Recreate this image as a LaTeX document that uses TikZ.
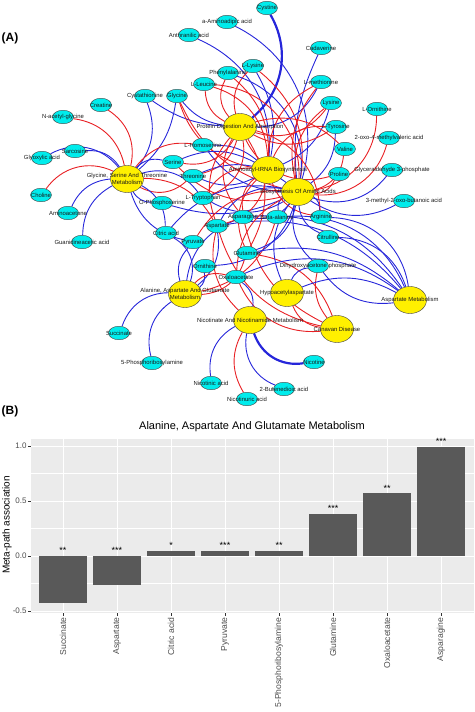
\documentclass[tikz,border=0pt]{standalone}
\usepackage{fontspec}
\setmainfont{Liberation Sans}
\usetikzlibrary{shapes.geometric,backgrounds}
\definecolor{ecyan}{RGB}{0,236,236}
\definecolor{eyel}{RGB}{255,240,0}
\definecolor{eblue}{RGB}{38,38,218}
\definecolor{ered}{RGB}{232,32,36}
\definecolor{panelgray}{RGB}{235,235,235}
\definecolor{bargray}{RGB}{89,89,89}
\definecolor{axgray}{RGB}{77,77,77}
\begin{document}
\begin{tikzpicture}[x=1pt,y=-1pt,
  met/.style={ellipse,draw=black!75,line width=0.4pt,fill=ecyan,minimum width=21pt,minimum height=13.5pt,inner sep=0pt},
  pw/.style={ellipse,draw=black!75,line width=0.4pt,fill=eyel,minimum width=33pt,minimum height=27pt,inner sep=0pt},
  lab/.style={font=\fontsize{5.9}{7}\selectfont,text=black!90,inner sep=0pt,align=center},
  bl/.style={draw=eblue,line width=0.9pt},
  rd/.style={draw=ered,line width=0.9pt},
  blT/.style={draw=eblue,line width=2.2pt},
  panel/.style={font=\bfseries\fontsize{12}{14}\selectfont,inner sep=0pt}]
\useasboundingbox (0,0) rectangle (474,712);
% ---------- panel labels
\node[panel] (lA) at (10,38) {(A)};
\node[panel] (lB) at (10,411) {(B)};
% ---------- pathway nodes
\node[pw] (PD) at (240,127) {};
\node[pw] (AT) at (268,170) {};
\node[pw] (BA) at (298,192) {};
\node[pw] (GS) at (127,179) {};
\node[pw] (AA) at (185,294) {};
\node[pw] (HA) at (287,293) {};
\node[pw] (NN) at (250,320) {};
\node[pw] (CD) at (337,329) {};
\node[pw] (AM) at (410,300) {};
% ---------- metabolite nodes
\node[met] (c1) at (267,8) {};
\node[met] (c2) at (227,22) {};
\node[met] (c3) at (189,35) {};
\node[met] (c4) at (321,48) {};
\node[met] (c5) at (253,66) {};
\node[met] (c6) at (228,73) {};
\node[met] (c7) at (321,82) {};
\node[met] (c8) at (204,84) {};
\node[met] (c9) at (145,96) {};
\node[met] (c10) at (177,96) {};
\node[met] (c11) at (101,105) {};
\node[met] (c12) at (331,103) {};
\node[met] (c13) at (377,109) {};
\node[met] (c14) at (63,117) {};
\node[met] (c15) at (336,127) {};
\node[met] (c16) at (389,138) {};
\node[met] (c17) at (203,145) {};
\node[met] (c18) at (345,149) {};
\node[met] (c19) at (75,151) {};
\node[met] (c20) at (42,158) {};
\node[met] (c21) at (173,162) {};
\node[met] (c22) at (392,170) {};
\node[met] (c23) at (339,174) {};
\node[met] (c24) at (193,176) {};
\node[met] (c25) at (41,195) {};
\node[met] (c26) at (203,198) {};
\node[met] (c27) at (162,203) {};
\node[met] (c28) at (404,201) {};
\node[met] (c29) at (68,213) {};
\node[met] (c30) at (243,217) {};
\node[met] (c31) at (277,217) {};
\node[met] (c32) at (321,217) {};
\node[met] (c33) at (217,226) {};
\node[met] (c34) at (166,233) {};
\node[met] (c35) at (328,237) {};
\node[met] (c36) at (193,242) {};
\node[met] (c37) at (82,242) {};
\node[met] (c38) at (247,253) {};
\node[met] (c39) at (205,266) {};
\node[met] (c40) at (318,266) {};
\node[met] (c41) at (236,277) {};
\node[met] (c42) at (119,333) {};
\node[met] (c43) at (314,362) {};
\node[met] (c44) at (152,363) {};
\node[met] (c45) at (211,383) {};
\node[met] (c46) at (284,389) {};
\node[met] (c47) at (247,399) {};
% ---------- edges (behind nodes)
\begin{pgfonlayer}{background}
\foreach \a/\b/\s/\k in {
 c1/PD/blT/40, c2/BA/bl/40, c3/AT/bl/35, c4/BA/bl/-15,
 c5/PD/rd/-30, c5/AT/bl/20, c5/BA/rd/30,
 c6/PD/rd/-35, c6/AT/rd/25, c6/BA/bl/40,
 c7/PD/bl/30, c7/AT/rd/-30, c7/BA/rd/-25,
 c8/PD/rd/-30, c8/AT/rd/35, c8/BA/rd/45,
 c9/GS/bl/30, c9/PD/bl/-15,
 c10/GS/bl/20, c10/PD/bl/-20, c10/AT/rd/-30, c10/BA/rd/-25,
 c11/GS/rd/35,
 c12/PD/rd/35, c12/AT/bl/25, c12/BA/rd/-30,
 c13/BA/rd/40, c14/GS/rd/35,
 c15/PD/rd/30, c15/AT/rd/-35, c15/BA/bl/25,
 c16/BA/rd/40,
 c17/GS/rd/-30, c17/BA/bl/-25, c17/AT/bl/20,
 c18/BA/rd/35, c18/PD/rd/-30,
 c19/GS/bl/30, c20/GS/bl/40,
 c21/GS/bl/-30, c21/PD/rd/-35, c21/AT/bl/25, c21/BA/rd/-30,
 c22/BA/bl/35,
 c23/BA/rd/30, c23/PD/rd/40,
 c24/GS/rd/35, c24/PD/rd/-30, c24/AT/bl/-25, c24/BA/bl/30,
 c25/GS/rd/40,
 c26/GS/bl/-35, c26/PD/rd/-40, c26/AT/rd/30, c26/BA/bl/-30,
 c27/GS/bl/30, c27/BA/bl/-20,
 c28/BA/bl/30, c29/GS/bl/30,
 c30/AM/bl/30, c30/CD/rd/-25, c30/BA/bl/-30, c30/AT/rd/30, c30/PD/rd/35, c30/AA/bl/-30,
 c31/AM/bl/35, c31/AA/rd/30, c31/BA/bl/30,
 c32/AM/bl/40, c32/BA/bl/-30, c32/AT/rd/30, c32/PD/rd/-35,
 c33/AA/bl/30, c33/AM/bl/30, c33/BA/bl/35, c33/PD/rd/30, c33/AT/rd/-30, c33/CD/rd/-30, c33/GS/rd/-30, c33/NN/rd/-30,
 c34/GS/bl/-30, c34/AA/bl/40, c34/BA/bl/30,
 c35/AM/bl/35, c35/BA/bl/30,
 c36/GS/bl/30, c36/AA/bl/-30, c36/BA/rd/30,
 c37/GS/bl/30,
 c38/AA/rd/35, c38/AM/bl/25, c38/BA/bl/-30, c38/AT/rd/35, c38/PD/rd/-30, c38/CD/rd/30,
 c39/AA/bl/30, c39/BA/bl/-35,
 c40/BA/bl/30, c40/HA/bl/-30, c40/CD/rd/-25, c40/AM/bl/-30,
 c41/AA/rd/-30, c41/BA/rd/30, c41/AM/bl/30, c41/CD/rd/-35, c41/NN/bl/30,
 c42/AA/bl/35, c43/NN/blT/40, c44/AA/bl/35, c45/NN/bl/35, c46/NN/bl/40, c47/NN/rd/30,
 HA/CD/rd/-30, HA/AM/bl/25, HA/BA/bl/30}
 \draw[\s] (\a) to[bend left=\k] (\b);
\end{pgfonlayer}
% ---------- labels
\node[lab] (PDt) at (PD) {Protein Digestion And Absorption};
\node[lab] (ATt) at (AT) {Aminoacyl-tRNA Biosynthesis};
\node[lab] (BAt) at (BA) {Biosynthesis Of Amino Acids};
\node[lab] (GSt) at (GS) {Glycine, Serine And Threonine\\Metabolism};
\node[lab] (AAt) at (AA) {Alanine, Aspartate And Glutamate\\Metabolism};
\node[lab] (HAt) at (HA) {Hypoacetylaspartate};
\node[lab] (NNt) at (NN) {Nicotinate And Nicotinamide Metabolism};
\node[lab] (CDt) at (CD) {Canavan Disease};
\node[lab] (AMt) at (AM) {Aspartate Metabolism};
\node[lab] (c1t) at (c1) {Cystine};
\node[lab] (c2t) at (c2) {a-Aminoadipic acid};
\node[lab] (c3t) at (c3) {Anthranilic acid};
\node[lab] (c4t) at (c4) {Cadaverine};
\node[lab] (c5t) at (c5) {L-Lysine};
\node[lab] (c6t) at (c6) {Phenylalanine};
\node[lab] (c7t) at (c7) {L-methionine};
\node[lab] (c8t) at (c8) {L-Leucine};
\node[lab] (c9t) at (c9) {Cystathionine};
\node[lab] (c10t) at (c10) {Glycine};
\node[lab] (c11t) at (c11) {Creatine};
\node[lab] (c12t) at (c12) {Lysine};
\node[lab] (c13t) at (c13) {L-Ornithine};
\node[lab] (c14t) at (c14) {N-acetyl-glycine};
\node[lab] (c15t) at (c15) {L-Tyrosine};
\node[lab] (c16t) at (c16) {2-oxo-4-methylvaleric acid};
\node[lab] (c17t) at (c17) {L-Homoserine};
\node[lab] (c18t) at (c18) {Valine};
\node[lab] (c19t) at (c19) {Sarcosine};
\node[lab] (c20t) at (c20) {Glyoxylic acid};
\node[lab] (c21t) at (c21) {Serine};
\node[lab] (c22t) at (c22) {Glyceraldehyde 3-phosphate};
\node[lab] (c23t) at (c23) {Proline};
\node[lab] (c24t) at (c24) {Threonine};
\node[lab] (c25t) at (c25) {Choline};
\node[lab] (c26t) at (c26) {L-Tryptophan};
\node[lab] (c27t) at (c27) {O-Phosphoserine};
\node[lab] (c28t) at (c28) {3-methyl-2-oxo-butanoic acid};
\node[lab] (c29t) at (c29) {Aminoacetone};
\node[lab] (c30t) at (c30) {Asparagine};
\node[lab] (c31t) at (c31) {Beta-alanine};
\node[lab] (c32t) at (c32) {Arginine};
\node[lab] (c33t) at (c33) {Aspartate};
\node[lab] (c34t) at (c34) {Citric acid};
\node[lab] (c35t) at (c35) {Citrulline};
\node[lab] (c36t) at (c36) {Pyruvate};
\node[lab] (c37t) at (c37) {Guanidineacetic acid};
\node[lab] (c38t) at (c38) {Glutamine};
\node[lab] (c39t) at (c39) {Ornithine};
\node[lab] (c40t) at (c40) {Dihydroxyacetone phosphate};
\node[lab] (c41t) at (c41) {Oxaloacetate};
\node[lab] (c42t) at (c42) {Succinate};
\node[lab] (c43t) at (c43) {Nicotine};
\node[lab] (c44t) at (c44) {5-Phosphoribosylamine};
\node[lab] (c45t) at (c45) {Nicotinic acid};
\node[lab] (c46t) at (c46) {2-Butenedioic acid};
\node[lab] (c47t) at (c47) {Nicotinuric acid};
% ---------- bar chart (B)
\node[font=\fontsize{11}{13}\selectfont,inner sep=0pt] (title) at (252,427) {Alanine, Aspartate And Glutamate Metabolism};
\fill[panelgray] (31,438.5) rectangle (474,613);
\foreach \yy in {473.5,528.5,583.5} \draw[white,line width=0.5pt] (31,\yy) -- (474,\yy);
\foreach \yy in {446,501,556,611} \draw[white,line width=1pt] (31,\yy) -- (474,\yy);
\foreach \i in {0,...,7} \draw[white,line width=1pt] ({63+54*\i},438.5) -- ({63+54*\i},613);
\foreach \yy/\tt in {446/1.0,501/0.5,556/0.0,611/-0.5}{
  \draw[black!80,line width=0.5pt] (28.3,\yy) -- (31,\yy);
  \node[font=\fontsize{8}{9}\selectfont,text=axgray,anchor=east,inner sep=0pt] (yt\yy) at (26.8,\yy) {\tt};
}
\node[font=\fontsize{10}{12}\selectfont,rotate=90,inner sep=0pt] (ytitle) at (7,525) {Meta-path association};
\foreach \i/\nm/\v/\s in {0/Succinate/-0.43/**,1/Aspartate/-0.265/***,2/Citric acid/0.045/*,3/Pyruvate/0.05/***,4/5-Phosphoribosylamine/0.05/**,5/Glutamine/0.38/***,6/Oxaloacetate/0.57/**,7/Asparagine/0.99/***}{
  \pgfmathsetmacro\xc{63+54*\i}
  \pgfmathsetmacro\yv{556-110*\v}
  \pgfmathsetmacro\ys{min(\yv,556)-7.5+5.2}
  \fill[bargray] ({\xc-24.3},556) rectangle ({\xc+24.3},\yv);
  \node[font=\fontsize{9}{10}\selectfont,anchor=base,inner sep=0pt] (st\i) at (\xc,\ys) {\s};
  \draw[black!80,line width=0.5pt] (\xc,613) -- (\xc,615.7);
  \node[font=\fontsize{8.6}{10}\selectfont,text=axgray,rotate=90,anchor=east,inner sep=0pt] (xl\i) at (\xc,617.5) {\nm};
}
\end{tikzpicture}
\end{document}
